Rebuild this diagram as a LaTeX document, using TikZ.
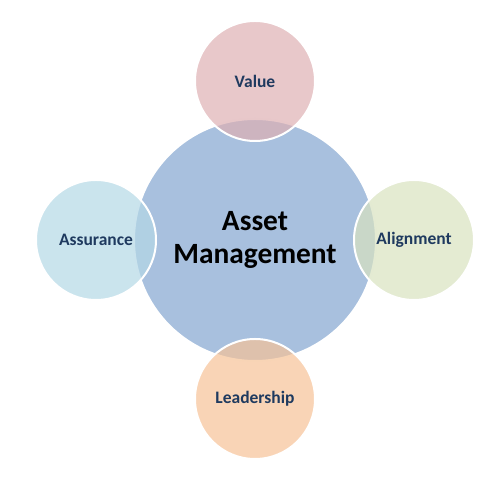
\documentclass[tikz,border=0pt]{standalone}
\usepackage{fontspec}
\setmainfont{Carlito}
\usepackage{xcolor}
\definecolor{Core}{HTML}{A8C0DE}
\definecolor{Rose}{HTML}{DEB0B3}
\definecolor{Sky}{HTML}{B4D8E6}
\definecolor{Sage}{HTML}{D8E2BF}
\definecolor{Peach}{HTML}{F6C297}
\definecolor{Ink}{HTML}{1F3A5F}
\usepackage{tikz}
\usetikzlibrary{positioning}
\begin{document}
\begin{tikzpicture}[x=1pt,y=1pt,node distance=-22pt,every node/.style={align=center,outer sep=0pt},
  hub/.style={circle,draw=white,line width=2pt,fill=Core,minimum size=242pt,font=\bfseries\fontsize{29.4}{33}\selectfont},
  petal/.style={circle,draw=white,line width=2pt,fill=#1,fill opacity=0.7,text opacity=1,text=Ink,minimum size=120pt,font=\bfseries\fontsize{17.5}{21}\selectfont}]
\useasboundingbox (0,0) rectangle (504,478);
\node[hub] (am) at (255,238) {Asset\\Management};
\node[petal=Rose,above=of am] (val) {Value};
\node[petal=Sky,left=of am] (asr) {Assurance};
\node[petal=Sage,right=of am] (aln) {Alignment};
\node[petal=Peach,below=of am] (ldr) {Leadership};
\end{tikzpicture}
\end{document}
